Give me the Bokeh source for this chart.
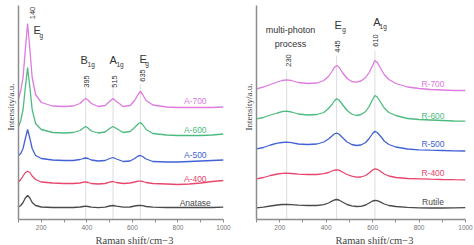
import math
from bokeh.plotting import figure
from bokeh.layouts import row
from bokeh.models import Range1d, FixedTicker, Title
from bokeh.core.properties import value
from bokeh.embed import file_html
from bokeh.resources import INLINE

# ---------------- data: anatase panel ----------------
x_anatase = [100, 110, 120, 130, 140, 150, 160, 175, 200, 250,
             300, 340, 370, 385, 395, 405, 420, 450, 480, 500,
             515, 530, 560, 590, 610, 625, 635, 645, 660, 690,
             750, 800, 850, 900, 950, 1000]
a700 = [121, 129, 142, 170, 196, 170, 142, 125, 117, 113.5,
        113, 113.5, 116, 119.5, 121, 119.5, 116, 113, 114, 118,
        121, 118, 113, 114, 119, 125, 128, 125, 119, 114.5,
        112.5, 112, 112, 112, 112, 112.5]
a600 = [93, 99, 110, 132, 152, 132, 110, 96, 90, 87,
        86.5, 87, 89, 91.5, 93, 91.5, 88.5, 86.5, 87.5, 91,
        93, 91, 87, 88, 92, 95.5, 97, 95, 90, 86,
        84.5, 84, 84, 84, 84.5, 85.5]
a500 = [64, 66, 71, 81, 90, 81, 71, 64, 61, 59.5,
        59, 59, 60, 61, 61.5, 61, 59.5, 58.5, 59, 61,
        62, 60.5, 58, 58.5, 61, 63.5, 64, 63, 60.5, 58,
        57.5, 57.5, 58, 58.5, 59, 59.5]
a400 = [37.5, 40, 43.5, 47, 48.3, 47, 43.5, 40, 37.5, 36.5,
        36, 36, 36.5, 37.3, 37.5, 37, 36, 35.5, 36, 37.3,
        38, 37, 36, 36.5, 37.5, 38.3, 38.3, 38, 37, 36,
        35.5, 35, 35.5, 36.5, 38, 39]
anatase = [12.5, 14, 17, 21.5, 24, 21.5, 17, 14, 12.5, 12,
           12, 12, 12.5, 13, 13.3, 13, 12.3, 11.8, 12.3, 13.5,
           14, 13.3, 12.3, 12.5, 13.5, 14, 14, 13.8, 13, 12.3,
           12, 12, 12, 12, 12, 12.3]
anatase_names = ["A-700", "A-600", "A-500", "A-400", "Anatase"]
anatase_peaks = [395, 515, 635]
anatase_peak_labels = ["140", "395", "515", "635"]
anatase_modes = ["E", "B", "A", "E"]
anatase_mode_subs = ["g", "1g", "1g", "g"]

# ---------------- data: rutile panel ----------------
x_rutile = [100, 130, 160, 190, 210, 230, 250, 280, 320, 360,
            390, 410, 425, 435, 445, 455, 470, 490, 510, 530,
            550, 570, 585, 600, 610, 620, 635, 650, 670, 700,
            750, 800, 850, 900, 950, 1000]
r700 = [130.7, 132.5, 135, 137.5, 139, 139.7, 139, 137, 136, 136.5,
        139, 143, 148, 152, 154, 152.5, 147, 141, 138, 137.3,
        138.5, 142, 147, 154, 159, 157, 151, 145, 140, 136,
        132.5, 131, 130, 129.5, 129, 129]
r600 = [100.7, 102, 104.5, 106.5, 107.8, 108.3, 107.5, 105.5, 104.5, 105,
        107, 111, 115, 118.5, 120.7, 119.5, 115, 109, 105.5, 104,
        105, 108, 113, 120, 124, 122.5, 117, 111.5, 107, 104,
        101, 100, 99.5, 99, 98.5, 98.3]
r500 = [70.7, 72, 74.5, 76.3, 77, 77.3, 76.8, 75.5, 75, 75.5,
        77.5, 80.5, 83.5, 85.5, 86.3, 85.5, 82, 77.5, 75, 74,
        74.5, 77, 81, 86, 88.3, 87, 83, 78.5, 75, 72.5,
        70.5, 69.7, 69.3, 69, 68.7, 68.5]
r400 = [40.7, 42, 44, 45.5, 46.2, 46.3, 46, 45.3, 45, 45,
        45.8, 47, 48.5, 49.3, 49.7, 49.3, 47.5, 45, 43.3, 42.3,
        42.5, 44, 46.5, 49.5, 50.7, 50.2, 48, 45.5, 43.5, 42,
        41, 40.7, 40.3, 40, 39.8, 39.7]
rutile = [11.7, 12.3, 13.5, 14.5, 15, 15, 14.8, 14.3, 14, 14,
          14.8, 16.5, 18.3, 19.5, 20, 19.5, 17.5, 15, 13.7, 13,
          13.2, 14.5, 16.5, 18.5, 19, 18.8, 17.3, 15.5, 14, 13,
          12.2, 11.7, 11.5, 11.5, 11.6, 11.8]
rutile_names = ["R-700", "R-600", "R-500", "R-400", "Rutile"]
rutile_peaks = [230, 445, 610]
rutile_peak_labels = ["230", "445", "610"]
rutile_modes = ["E", "A"]
rutile_mode_subs = ["g", "1g"]

x_ticks = [200, 400, 600, 800, 1000]
x_minor = [100, 300, 500, 700, 900]

colors = ["#dd7be0", "#4dbb7f", "#4262d4", "#e8466c", "#4a4a4a"]
SANS = value("Liberation Sans")
SERIF = "Liberation Serif"
AX = "#8c8c8c"


def base_fig(border_left, border_right, title_offset_x):
    p = figure(width=237, height=245, x_range=Range1d(100, 1000), y_range=Range1d(0, 214),
               output_backend="svg", toolbar_location=None,
               min_border_left=border_left, min_border_right=border_right,
               min_border_top=5, min_border_bottom=0)
    p.grid.visible = False
    p.outline_line_color = None
    p.background_fill_color = "white"
    xa = p.xaxis[0]
    xa.ticker = FixedTicker(ticks=x_ticks, minor_ticks=x_minor)
    xa.axis_line_color = AX
    xa.axis_line_width = 1.5
    xa.major_tick_line_color = AX
    xa.minor_tick_line_color = AX
    xa.major_tick_in = 0
    xa.major_tick_out = 3
    xa.minor_tick_in = 0
    xa.minor_tick_out = 3
    xa.major_label_text_font = "Liberation Sans"
    xa.major_label_text_font_size = "6.5px"
    xa.major_label_text_color = "#777777"
    xa.major_label_standoff = 2
    ya = p.yaxis[0]
    ya.ticker = FixedTicker(ticks=[])
    ya.axis_line_color = AX
    ya.axis_line_width = 1.5
    ya.major_tick_line_color = None
    ya.minor_tick_line_color = None
    ya.major_tick_out = 6
    ya.major_tick_in = 0
    p.add_layout(Title(text="Raman shift/cm\u22123", align="left", offset=title_offset_x,
                       text_font=SERIF, text_font_size="10.5px", text_font_style="normal",
                       text_color="#444444", standoff=0), "below")
    p.add_layout(Title(text="Intensity/a.u.", align="left", offset=89,
                       text_font=SERIF, text_font_size="9px", text_font_style="normal",
                       text_color="#444444", standoff=5), "left")
    return p


# ---------------- left panel ----------------
p1 = base_fig(18, 14, 77)
p1.segment(x0=anatase_peaks, y0=[0] * 3, x1=anatase_peaks, y1=[131, 131, 135],
           line_color="#dddddd", line_width=1)
for ys, c in zip([a700, a600, a500, a400, anatase], colors):
    p1.line(x_anatase, ys, line_color=c, line_width=1.3)
p1.text(x=[876] * 5, y=[119, 90, 65, 41, 17], text=anatase_names, text_color=colors,
        text_font=SANS, text_font_size="8.5px", text_align="center", text_baseline="middle")
p1.text(x=[161, 398, 521, 644], y=[206.5, 138, 138, 144], text=anatase_peak_labels,
        angle=math.pi / 2, text_color="#333333", text_font=SANS, text_font_size="7.5px",
        text_align="center", text_baseline="middle")
p1.text(x=[166, 372, 499, 631], y=[190, 160, 160, 161], text=anatase_modes,
        text_color="#333333", text_font=SANS, text_font_size="11px",
        text_align="left", text_baseline="middle")
p1.text(x=[192, 403, 530, 657], y=[184, 155, 155, 156], text=anatase_mode_subs,
        text_color="#333333", text_font=SANS, text_font_size="6.5px",
        text_align="left", text_baseline="middle")

# ---------------- right panel ----------------
p2 = base_fig(19, 9, 79)
p2.segment(x0=rutile_peaks, y0=[0] * 3, x1=rutile_peaks, y1=[149, 164, 169],
           line_color="#dddddd", line_width=1)
for ys, c in zip([r700, r600, r500, r400, rutile], colors):
    p2.line(x_rutile, ys, line_color=c, line_width=1.3)
p2.text(x=[860] * 5, y=[135.7, 104, 75.7, 46.3, 18], text=rutile_names, text_color=colors,
        text_font=SANS, text_font_size="8.5px", text_align="center", text_baseline="middle")
p2.text(x=[237.5, 448.6, 613.6], y=[159, 173, 179], text=rutile_peak_labels,
        angle=math.pi / 2, text_color="#333333", text_font=SANS, text_font_size="7.5px",
        text_align="center", text_baseline="middle")
p2.text(x=[436, 603], y=[195, 197.5], text=rutile_modes,
        text_color="#333333", text_font=SANS, text_font_size="11px",
        text_align="left", text_baseline="middle")
p2.text(x=[469, 630], y=[190, 193], text=rutile_mode_subs,
        text_color="#333333", text_font=SANS, text_font_size="6.5px",
        text_align="left", text_baseline="middle")
p2.text(x=[246, 246], y=[190, 176], text=["multi-photon", "process"],
        text_color="#333333", text_font=SANS, text_font_size="9px",
        text_align="center", text_baseline="middle")

layout = row(p1, p2)
open("out.html", "w").write(file_html(layout, INLINE))
